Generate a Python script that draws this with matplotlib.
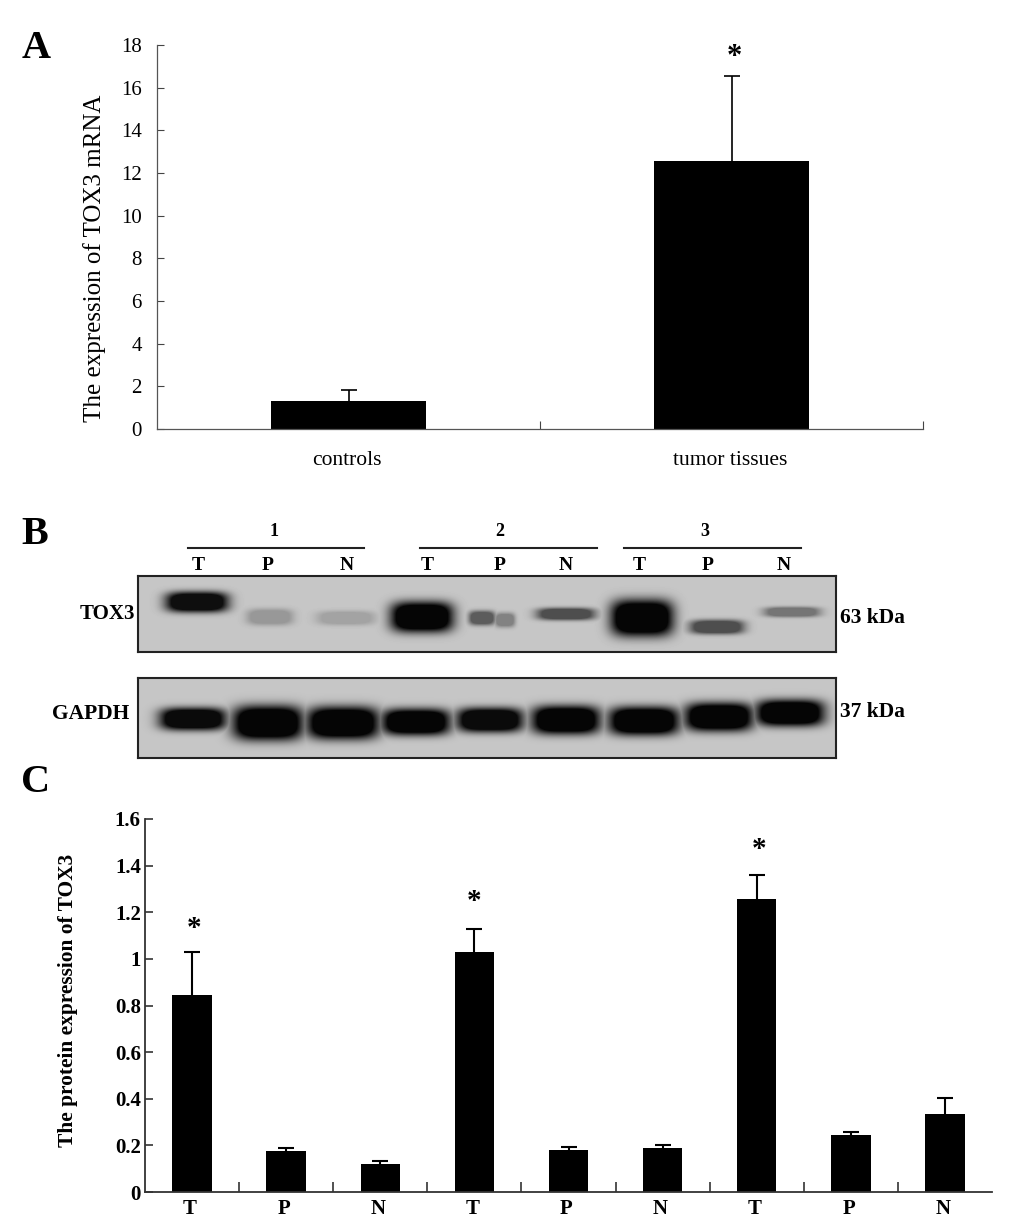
import numpy as np
import matplotlib
matplotlib.use("Agg")
import matplotlib.pyplot as plt
from matplotlib.lines import Line2D

W, H = 1033, 1223
plt.rcParams['font.family'] = ['Liberation Serif', 'DejaVu Serif']

# Panel A
a_cats = ['controls', 'tumor tissues']
a_vals = [1.3, 12.55]
a_errs = [0.52, 4.0]
a_yticks = list(range(0, 20, 2))

# Panel C
c_cats = ['T', 'P', 'N', 'T', 'P', 'N', 'T', 'P', 'N']
c_vals = [0.845, 0.175, 0.12, 1.03, 0.18, 0.19, 1.255, 0.245, 0.335]
c_errs = [0.185, 0.015, 0.015, 0.10, 0.015, 0.012, 0.105, 0.012, 0.07]
c_yticks = [0, 0.2, 0.4, 0.6, 0.8, 1, 1.2, 1.4, 1.6]
c_ylabels = ['0', '0.2', '0.4', '0.6', '0.8', '1', '1.2', '1.4', '1.6']
c_star_x = [0.02, 3.0, 6.03]
c_star_y = [1.13, 1.245, 1.47]

# Panel B: lane centre x, band centre y, half-width, half-height, darkness
tox3_bands = [(197, 602, 31, 10, 0.95), (270, 617, 23, 8, 0.24), (346, 618, 29, 7, 0.18),
              (422, 617, 31, 15, 1.0), (482, 618, 13, 7, 0.55), (505, 620, 10, 7, 0.35),
              (566, 614, 29, 6, 0.62), (642, 618, 31, 18, 1.0), (717, 627, 27, 7, 0.62),
              (792, 612, 28, 5, 0.42)]
gapdh_bands = [(193, 719, 33, 11, 0.97), (268, 723, 35, 17, 1.0), (343, 723, 36, 16, 1.0),
               (416, 722, 34, 13, 1.0), (490, 720, 33, 12, 0.97), (566, 720, 34, 14, 1.0),
               (644, 721, 35, 14, 1.0), (719, 717, 34, 14, 1.0), (790, 713, 34, 13, 1.0)]
lane_groups = ['1', '2', '3']
group_x = [274, 500, 705]
group_lines = [(188, 364), (420, 597), (624, 801)]
lane_labels = ['T', 'P', 'N', 'T', 'P', 'N', 'T', 'P', 'N']
lane_x = [198, 268, 347, 427, 500, 566, 639, 708, 784]


def ax_px(x0, y_top, x1, y_bot):
    return fig.add_axes([x0 / W, 1 - y_bot / H, (x1 - x0) / W, (y_bot - y_top) / H])


def txt(x, y, s, **kw):
    kw.setdefault('ha', 'center')
    kw.setdefault('va', 'center')
    fig.text(x / W, 1 - y / H, s, **kw)


def blot(x0, y_top, x1, y_bot, bands):
    ax = ax_px(x0, y_top, x1, y_bot)
    xs = np.arange(x0, x1) + 0.5
    ys = np.arange(y_top, y_bot) + 0.5
    X, Y = np.meshgrid(xs, ys)
    dark = np.zeros_like(X)
    for cx, cy, hw, hh, d in bands:
        g = np.exp(-np.abs((X - cx) / hw) ** 4 - np.abs((Y - cy) / hh) ** 3)
        dark = np.maximum(dark, d * np.clip(g * 1.6, 0, 1))
    img = 198 * (1 - dark) + 5 * dark
    ax.imshow(img, cmap='gray', vmin=0, vmax=255, extent=[x0, x1, y_bot, y_top],
              aspect='auto', interpolation='bilinear')
    ax.set_xticks([]); ax.set_yticks([])
    for s in ax.spines.values():
        s.set_linewidth(1.5); s.set_color('#222222')


def error_bars(ax, x, vals, errs, lw, cap):
    cont = ax.errorbar(x, vals, yerr=[np.zeros(len(errs)), errs], fmt='none', ecolor='black',
                       elinewidth=lw, capsize=cap, capthick=lw, zorder=1)
    cont[1][0].set_visible(False)


fig = plt.figure(figsize=(W / 100, H / 100), dpi=100, facecolor='white')

# ---------- A
ax = ax_px(157, 45, 923, 429)
xa = np.arange(len(a_cats))
ax.bar(xa, a_vals, width=0.405, color='black', zorder=2)
error_bars(ax, xa, a_vals, a_errs, 1.2, 6)
ax.set_xlim(-0.5, 1.5); ax.set_ylim(0, 18)
ax.set_yticks(a_yticks)
ax.set_xticks([0.5, 1.5])
ax.set_xticklabels([])
ax.tick_params(axis='x', direction='in', length=6, width=0.8, color='#444444')
ax.tick_params(axis='y', direction='in', length=5, width=0.8, color='#444444', labelsize=15, pad=11)
ax.spines['top'].set_visible(False); ax.spines['right'].set_visible(False)
for s in ('left', 'bottom'):
    ax.spines[s].set_linewidth(0.9); ax.spines[s].set_color('#555555')
txt(95, 258, 'The expression of TOX3 mRNA', rotation=90, fontsize=18)
txt(347, 461, a_cats[0], fontsize=15.5)
txt(730, 461, a_cats[1], fontsize=15.5)
ax.text(1.008, 17.4, '*', fontsize=22, ha='center', va='center', fontweight='bold')

# ---------- B
for (a, b), g, gx in zip(group_lines, lane_groups, group_x):
    fig.add_artist(Line2D([a / W, b / W], [1 - 548 / H] * 2, color='#222222', lw=1.5))
    txt(gx, 532, g, fontsize=13, fontweight='bold')
for lx, l in zip(lane_x, lane_labels):
    txt(lx, 565, l, fontsize=14, fontweight='bold')
blot(138, 576, 836, 652, tox3_bands)
blot(138, 678, 836, 758, gapdh_bands)
txt(107, 614, 'TOX3', fontsize=15, fontweight='bold')
txt(91, 714, 'GAPDH', fontsize=15.5, fontweight='bold')
txt(873, 618, '63 kDa', fontsize=15.5, fontweight='bold')
txt(873, 712, '37 kDa', fontsize=15.5, fontweight='bold')

# ---------- C
ax = ax_px(145, 819, 992, 1192)
xc = np.arange(len(c_cats))
ax.bar(xc, c_vals, width=0.42, color='black', zorder=2)
error_bars(ax, xc, c_vals, c_errs, 1.5, 5.5)
ax.set_xlim(-0.5, 8.5); ax.set_ylim(0, 1.6)
ax.set_yticks(c_yticks); ax.set_yticklabels(c_ylabels, fontweight='bold')
ax.set_xticks(xc[:-1] + 0.5); ax.set_xticklabels([])
ax.tick_params(axis='x', direction='in', length=7, width=1.2, color='#333333')
ax.tick_params(axis='y', direction='in', length=6, width=1.2, color='#333333', labelsize=15, pad=3)
ax.spines['top'].set_visible(False); ax.spines['right'].set_visible(False)
for s in ('left', 'bottom'):
    ax.spines[s].set_linewidth(1.3); ax.spines[s].set_color('#333333')
for i, c in zip(xc, c_cats):
    ax.annotate(c, (i, 0), xytext=(-2, -17), textcoords='offset pixels', fontsize=15, fontweight='bold',
                ha='center', va='center')
for x, y in zip(c_star_x, c_star_y):
    ax.text(x, y, '*', fontsize=21, ha='center', va='center', fontweight='bold')
txt(68, 1000, 'The protein expression of TOX3', rotation=90, fontsize=15.4, fontweight='bold')

# Panel letters
txt(36, 48, 'A', fontsize=29, fontweight='bold')
txt(35, 535, 'B', fontsize=29, fontweight='bold')
txt(36, 783, 'C', fontsize=29, fontweight='bold')

fig.savefig('out.png', dpi=100, facecolor='white')
